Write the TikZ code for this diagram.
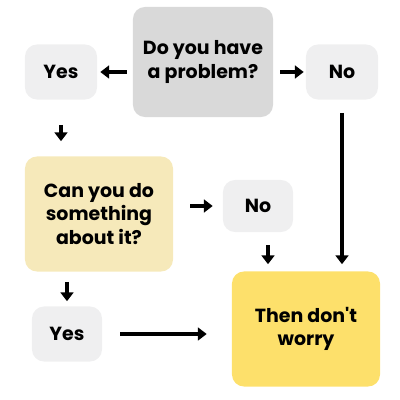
\documentclass[tikz,border=0pt]{standalone}
\usepackage{fontspec}
\setmainfont{Poppins}[Ligatures=TeXOff]
\usepackage{xcolor}
\usepackage{tikz}
\usetikzlibrary{arrows.meta, positioning, calc}

\definecolor{probgray}{HTML}{D9D9D9}
\definecolor{answergray}{HTML}{EFEFF0}
\definecolor{canbeige}{HTML}{F6E9BA}
\definecolor{worryyellow}{HTML}{FDE06B}

\begin{document}
\begin{tikzpicture}[x=0.025cm, y=-0.025cm,
  box/.style={rectangle, rounded corners=0.3cm, align=center, inner sep=0pt,
    font=\bfseries\fontsize{13.5}{16.5}\selectfont},
  arr/.style={-{Triangle[length=0.22cm, width=0.32cm]}, line width=2.8pt}]
\useasboundingbox (0,0) rectangle (400,400);

% Question 1
\node[box, minimum width=3.5cm, minimum height=2.75cm, fill=probgray] (problem) at (203,62) {Do you have\\a problem?};
\node[box, minimum width=1.8cm, minimum height=1.375cm, fill=answergray] (yesone) at (61,72) {Yes};
\node[box, minimum width=1.8cm, minimum height=1.375cm, fill=answergray] (noone) at (342,72) {No};

% Question 2
\node[box, minimum width=3.7cm, minimum height=2.875cm, fill=canbeige] (cando) at (99,214) {Can you do\\something\\about it?};
\node[box, minimum width=1.75cm, minimum height=1.3cm, fill=answergray] (notwo) at (258,206) {No};
\node[box, minimum width=1.75cm, minimum height=1.375cm, fill=answergray] (yestwo) at (67,334) {Yes};

% Outcome
\node[box, minimum width=3.7cm, minimum height=2.875cm, fill=worryyellow] (worry) at (306,329) {Then don't\\worry};

% Arrows
\draw[arr, shorten <=0.15cm, shorten >=0.075cm] (problem.west |- yesone) -- (yesone);
\draw[arr, shorten <=0.175cm, shorten >=0.05cm] (problem.east |- noone) -- (noone);
\draw[arr, shorten <=0.625cm, shorten >=0.375cm] (yesone) -- (yesone |- cando.north);
\draw[arr, shorten <=0.325cm, shorten >=0.175cm] (noone.south) -- (noone |- worry.north);
\draw[arr, shorten <=0.425cm, shorten >=0.25cm] (cando.east |- notwo) -- (notwo);
\draw[arr, shorten <=0.325cm, shorten >=0.175cm] ($(notwo.south)+(10,0)$) -- ($(notwo.south |- worry.north)+(10,0)$);
\draw[arr, shorten <=0.25cm, shorten >=0.125cm] (yestwo |- cando.south) -- (yestwo);
\draw[arr, shorten <=0.45cm, shorten >=0.625cm] (yestwo) -- (yestwo -| worry.west);
\end{tikzpicture}
\end{document}
